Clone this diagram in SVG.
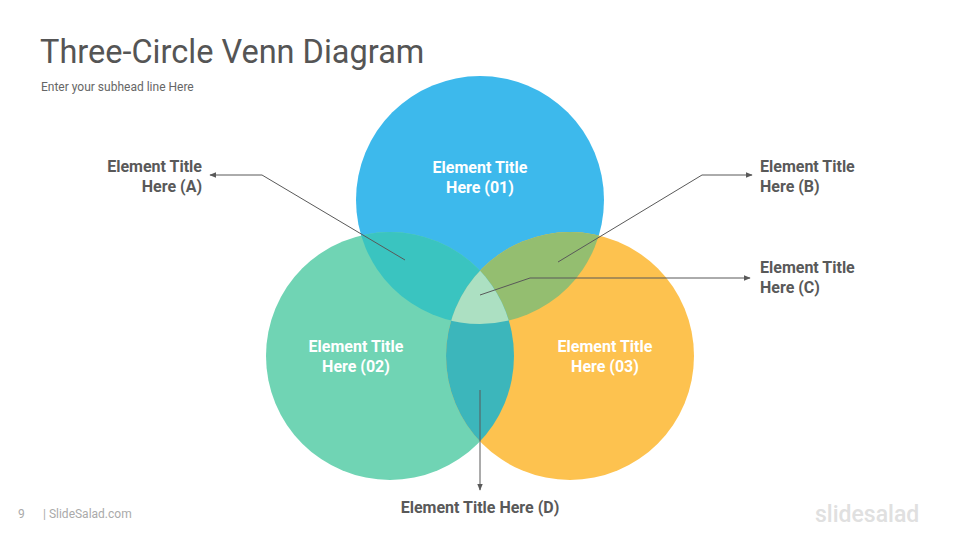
<svg xmlns="http://www.w3.org/2000/svg" width="960" height="540" viewBox="0 0 960 540">
<style>
.lbl{font-family:Roboto,"Liberation Sans",sans-serif;font-weight:bold;font-size:16px;fill:#595959}
.in{font-family:Roboto,"Liberation Sans",sans-serif;font-weight:bold;font-size:16px;fill:#fff;text-anchor:middle}
.ln{fill:none;stroke:#595959;stroke-width:1;marker-end:url(#ar)}
</style>
<defs>
<marker id="ar" viewBox="0 0 10 10" refX="9" refY="5" markerWidth="7" markerHeight="7" orient="auto"><path d="M0,1 L10,5 L0,9 z" fill="#595959"/></marker>
<clipPath id="cb"><circle cx="480" cy="200" r="124"/></clipPath>
<clipPath id="cg"><circle cx="390" cy="356" r="124"/></clipPath>
<clipPath id="cy"><circle cx="570" cy="356" r="124"/></clipPath>
<clipPath id="cbg" clip-path="url(#cb)"><circle cx="390" cy="356" r="124"/></clipPath>
</defs>
<rect width="960" height="540" fill="#fff"/>
<text x="40" y="63" font-family="Roboto,'Liberation Sans',sans-serif" font-size="32.5" fill="#555">Three-Circle Venn Diagram</text>
<text x="41" y="91" font-family="Roboto,'Liberation Sans',sans-serif" font-size="12" fill="#666">Enter your subhead  line Here</text>
<g id="circle-01"><circle cx="480" cy="200" r="124" fill="#3DB9EC"/></g>
<g id="circle-02"><circle cx="390" cy="356" r="124" fill="#70D4B4"/></g>
<g id="circle-03"><circle cx="570" cy="356" r="124" fill="#FDC24F"/></g>
<g id="overlaps">
<circle cx="390" cy="356" r="124" fill="#3AC4C0" clip-path="url(#cb)"/>
<circle cx="570" cy="356" r="124" fill="#94BE70" clip-path="url(#cb)"/>
<circle cx="570" cy="356" r="124" fill="#3CB6BB" clip-path="url(#cg)"/>
<circle cx="570" cy="356" r="124" fill="#ACE0C2" clip-path="url(#cbg)"/>
</g>
<g id="connectors">
<polyline class="ln" points="405,260 262,175 210,175"/>
<polyline class="ln" points="558,262 702,175 752,175"/>
<polyline class="ln" points="480,295 530,278 750,278"/>
<polyline class="ln" points="480,390 480,490"/>
</g>
<g id="labels-in">
<text class="in" x="480" y="173">Element Title</text><text class="in" x="480" y="193">Here (01)</text>
<text class="in" x="356" y="352">Element Title</text><text class="in" x="356" y="372">Here (02)</text>
<text class="in" x="605" y="352">Element Title</text><text class="in" x="605" y="372">Here (03)</text>
</g>
<g id="label-A"><text class="lbl" x="202" y="172" text-anchor="end">Element Title</text><text class="lbl" x="202" y="192" text-anchor="end">Here (A)</text></g>
<g id="label-B"><text class="lbl" x="760" y="172">Element Title</text><text class="lbl" x="760" y="192">Here (B)</text></g>
<g id="label-C"><text class="lbl" x="760" y="273">Element Title</text><text class="lbl" x="760" y="293">Here (C)</text></g>
<g id="label-D"><text class="lbl" x="480" y="513" text-anchor="middle">Element Title Here (D)</text></g>
<text x="18" y="518" font-family="Roboto,'Liberation Sans',sans-serif" font-size="12" fill="#aaa">9</text>
<text x="43" y="518" font-family="Roboto,'Liberation Sans',sans-serif" font-size="12" fill="#aaa">| SlideSalad.com</text>
<text x="815" y="522" font-family="Roboto,'Liberation Sans',sans-serif" font-size="23" font-weight="500" fill="#e0e0e0">slidesalad</text>
</svg>
